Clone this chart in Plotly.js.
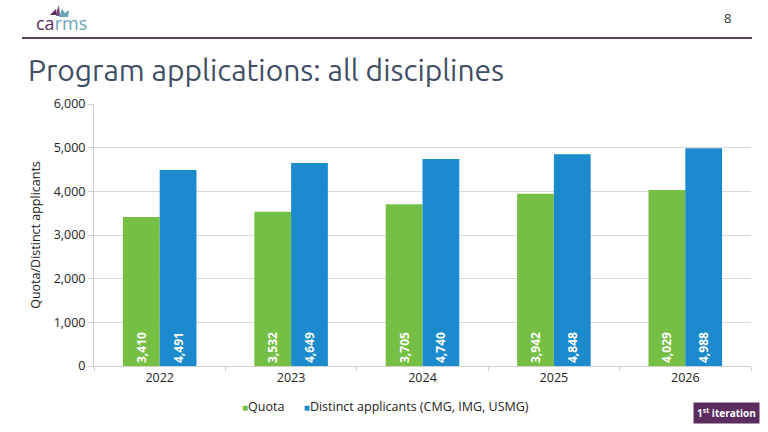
<!DOCTYPE html>
<html><head><meta charset="utf-8">
<script src="https://cdn.plot.ly/plotly-3.0.1.min.js"></script>
<style>html,body{margin:0;padding:0;background:#fff;}#chart{width:768px;height:432px;}</style>
</head><body><div id="chart"></div>
<script>
const years = ['2022','2023','2024','2025','2026'];
const quota = [3410, 3532, 3705, 3942, 4029];
const applicants = [4491, 4649, 4740, 4848, 4988];
const yTicks = [0, 1000, 2000, 3000, 4000, 5000, 6000];
const seriesNames = ['Quota', 'Distinct applicants (CMG, IMG, USMG)'];
const colors = ['#74bf44', '#1b8bcd'];
const fmt = v => v.toLocaleString('en-US');

// page geometry helpers (pixel -> paper)
const M = {l:94, r:17, t:104, b:66};
const PW = 768 - M.l - M.r, PH = 432 - M.t - M.b;
const px = x => (x - M.l) / PW;
const py = y => (432 - M.b - y) / PH;

const labelFont = {family:'Open Sans, sans-serif', size:12, color:'#ffffff', weight:700};
const traces = [quota, applicants].map((vals, i) => ({
  type:'bar', name:seriesNames[i], x:years, y:vals, marker:{color:colors[i]},
  text:vals.map(fmt), textposition:'inside', insidetextanchor:'start', textangle:-90,
  textfont:labelFont, hoverinfo:'skip', showlegend:false
}));

const layout = {
  width:768, height:432,
  margin:M,
  paper_bgcolor:'#ffffff', plot_bgcolor:'#ffffff',
  barmode:'group', bargap:0.44, bargroupgap:0,
  font:{family:'Open Sans, sans-serif', color:'#222'},
  showlegend:false,
  xaxis:{type:'category', showgrid:false, showline:true, linecolor:'#d0d0d0', linewidth:1,
    ticks:'outside', tickson:'boundaries', ticklen:4, tickcolor:'#d0d0d0',
    tickfont:{size:12.5, color:'#222'}},
  yaxis:{range:[0,6000], tickvals:yTicks, ticktext:yTicks.map(fmt), showgrid:true, gridcolor:'#d9d9d9',
    showline:true, linecolor:'#d0d0d0', ticks:'outside', ticklen:5, tickcolor:'#d0d0d0',
    tickfont:{size:12.5, color:'#222'}, zeroline:false,
    title:{text:'Quota/Distinct applicants', font:{size:12.5, color:'#222'}, standoff:10}},
  shapes:[
    {type:'line', xref:'paper', yref:'paper', x0:px(22), x1:px(752), y0:py(38), y1:py(38),
     line:{color:'#5e3f60', width:2}},
    // logo leaves
    {type:'path', xref:'paper', yref:'paper',
     path:`M ${px(50)} ${py(15)} L ${px(57)} ${py(15)} L ${px(56)} ${py(9)} L ${px(53)} ${py(12)} Z`,
     fillcolor:'#5b2d5e', line:{width:0}},
    {type:'path', xref:'paper', yref:'paper',
     path:`M ${px(56)} ${py(16)} L ${px(60)} ${py(16)} L ${px(59)} ${py(5)} L ${px(57)} ${py(10)} Z`,
     fillcolor:'#7b4a7e', line:{width:0}},
    {type:'path', xref:'paper', yref:'paper',
     path:`M ${px(59)} ${py(17)} L ${px(68)} ${py(17)} L ${px(69)} ${py(10)} L ${px(65)} ${py(13)} L ${px(62)} ${py(9)} Z`,
     fillcolor:'#6aa5b8', line:{width:0}}
  ],
  annotations:[
    {xref:'paper', yref:'paper', x:px(26), y:py(70), xanchor:'left', yanchor:'middle', showarrow:false,
     text:'Program applications: all disciplines', font:{family:'Ubuntu, Open Sans, sans-serif', size:30, color:'#3f4e64'}},
    {xref:'paper', yref:'paper', x:px(727), y:py(18), xanchor:'center', yanchor:'middle', showarrow:false,
     text:'8', font:{size:13, color:'#333'}},
    {xref:'paper', yref:'paper', x:px(34), y:py(23), xanchor:'left', yanchor:'middle', showarrow:false,
     text:'<span style="color:#5b2d5e">ca</span><span style="color:#6aa5b8">rms</span>', font:{size:18, color:'#5b2d5e'}},
    {xref:'paper', yref:'paper', x:px(385), y:py(406), xanchor:'center', yanchor:'middle', showarrow:false,
     text:`<span style="color:${colors[0]}; font-size:10px">■</span>${seriesNames[0]}      <span style="color:${colors[1]}; font-size:10px">■</span>${seriesNames[1]}`,
     font:{size:12.5, color:'#222'}},
    {xref:'paper', yref:'paper', x:px(760), y:py(413), xanchor:'right', yanchor:'middle', showarrow:false,
     text:'<b>1<sup>st</sup> iteration</b>', bgcolor:'#5b2c5e', borderpad:3,
     font:{size:10, color:'#ffffff'}}
  ]
};
Plotly.newPlot('chart', traces, layout, {displayModeBar:false, staticPlot:true});
</script></body></html>
